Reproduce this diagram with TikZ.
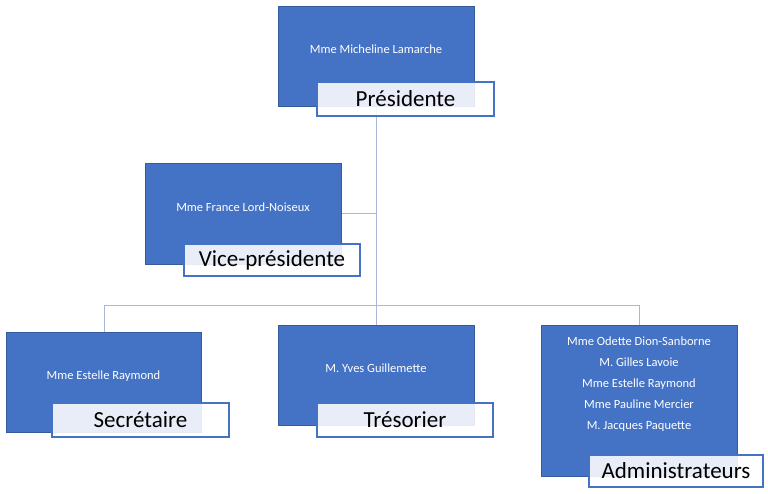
\documentclass[tikz,border=0pt]{standalone}
\usepackage{fontspec}
\setmainfont{Carlito}
\definecolor{bx}{HTML}{4472C4}
\definecolor{ln}{HTML}{A9B8D8}
\begin{document}
\begin{tikzpicture}[x=1pt,y=-1pt,
  box/.style={fill=bx,draw=bx!80!black,line width=0.3pt,text=white,font=\fontsize{12.5}{17}\selectfont,align=center,inner sep=0},
  lab/.style={fill=white,fill opacity=0.88,text opacity=1,draw=bx,line width=1.2pt,font=\fontsize{23}{26}\selectfont,inner sep=0,text=black},
  con/.style={draw=ln,line width=0.8pt}]
\useasboundingbox (0,0) rectangle (768,493);
\fill[white] (0,0) rectangle (768,493);
% connectors first
\coordinate (t) at (376,106);
\coordinate (j) at (376,213);
\coordinate (h) at (376,305);
\coordinate (hl) at (104,305);
\coordinate (hr) at (639,305);
\draw[con] (t) -- (h);
\draw[con] (j) -- (341,213);
\draw[con] (hl) -- (hr);
\draw[con] (hl) -- (104,332);
\draw[con] (h) -- (376,325);
\draw[con] (hr) -- (639,325);
% boxes
\node[box,minimum width=196,minimum height=100] (p) at (376,56) {Mme Micheline Lamarche\\[-4pt]\mbox{}};
\node[box,minimum width=196,minimum height=101] (v) at (243,213.5) {Mme France Lord-Noiseux\\[-4pt]\mbox{}};
\node[box,minimum width=195,minimum height=100] (s) at (103.5,382) {Mme Estelle Raymond\\[-4pt]\mbox{}};
\node[box,minimum width=196,minimum height=100] (tr) at (376,375) {M. Yves Guillemette\\[-4pt]\mbox{}};
\node[box,minimum width=196,minimum height=151,font=\fontsize{12.5}{21}\selectfont] (a) at (639,400.5) {\raisebox{0pt}{}Mme Odette Dion-Sanborne\\M. Gilles Lavoie\\Mme Estelle Raymond\\Mme Pauline Mercier\\M. Jacques Paquette\\[14pt]\mbox{}};
% labels
\node[lab,minimum width=177,minimum height=34] (pl) at (405.5,99) {Présidente};
\node[lab,minimum width=176,minimum height=32] (vl) at (272,260) {Vice-présidente};
\node[lab,minimum width=177,minimum height=34] (sl) at (140.5,420) {Secrétaire};
\node[lab,minimum width=176,minimum height=34] (tl) at (405,420) {Trésorier};
\node[lab,minimum width=174,minimum height=32] (al) at (676,471) {Administrateurs};
\end{tikzpicture}
\end{document}
